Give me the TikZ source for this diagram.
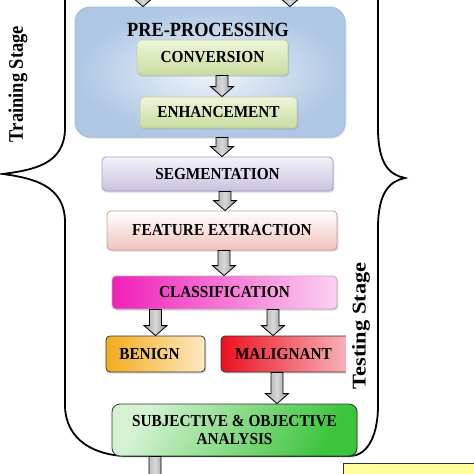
\documentclass[tikz,border=0pt]{standalone}
\usepackage{fontspec}
\setmainfont{Liberation Serif}
\usepackage{graphicx}
\usetikzlibrary{calc,shadows}
\definecolor{preIn}{HTML}{F0F5FB}
\definecolor{preOut}{HTML}{AEC7E4}
\definecolor{preBd}{HTML}{A3B9D3}
\definecolor{grTop}{HTML}{EEF5DA}
\definecolor{grBot}{HTML}{C9DCA0}
\definecolor{grBd}{HTML}{BFCFA3}
\definecolor{segTop}{HTML}{F4F2FA}
\definecolor{segBot}{HTML}{C9C2E0}
\definecolor{segBd}{HTML}{A69CC4}
\definecolor{featBot}{HTML}{EFC3BC}
\definecolor{featBd}{HTML}{C99A93}
\definecolor{clsL}{HTML}{F020B8}
\definecolor{clsR}{HTML}{FBD0F2}
\definecolor{clsBd}{HTML}{C9A0C4}
\definecolor{benL}{HTML}{F2AC1C}
\definecolor{benR}{HTML}{FDE9C4}
\definecolor{malL}{HTML}{EC1020}
\definecolor{malR}{HTML}{F9C3C8}
\definecolor{subL}{HTML}{D4F2D2}
\definecolor{subR}{HTML}{3CC43C}
\definecolor{noteY}{HTML}{FFFF9E}
\newcommand\tx[1]{\scalebox{1}[1.1]{#1}}
\newcommand\barrow[2]{\path[blockarrow] let \p1=#1, \p2=#2 in
  (\x1-6pt,\y1) -- (\x1+6pt,\y1) -- (\x1+6pt,\y2+10pt) -- (\x1+11.5pt,\y2+10pt)
  -- (\x1,\y2) -- (\x1-11.5pt,\y2+10pt) -- (\x1-6pt,\y2+10pt) -- cycle;}
\begin{document}
\begin{tikzpicture}[x=1pt,y=-1pt,
  box/.style={rectangle, rounded corners=4pt, inner sep=0pt, line width=0.8pt,
    font=\bfseries\fontsize{15.3}{18}\selectfont, align=center,
    drop shadow={shadow xshift=1.3pt,shadow yshift=-1.6pt,opacity=0.3}},
  blockarrow/.style={draw=black, line width=0.8pt, left color=gray!70, right color=gray!90, middle color=gray!30},
  outline/.style={draw=black, line width=1.8pt},
  stagelabel/.style={font=\bfseries, rotate=90, inner sep=0pt}]
\useasboundingbox (0,0) rectangle (474,474);

% stage outline
\draw[outline] (65,-10) -- (65,128) .. controls (65,165) and (32,170) .. (3,174)
  .. controls (32,178) and (65,185) .. (65,222) -- (65,405)
  .. controls (65,440) and (95,456) .. (128,456) -- (350,456)
  .. controls (365,456) and (378,440) .. (378,405) -- (378,228)
  .. controls (378,192) and (390,181) .. (405,178)
  .. controls (390,175) and (378,165) .. (378,128) -- (378,-10);

% boxes
\node[box, rounded corners=15pt, draw=preBd, inner color=preIn, outer color=preOut,
  minimum width=270pt, minimum height=130pt] (pre) at (210,72) {};
\node[font=\bfseries\fontsize{18.3}{20}\selectfont, inner sep=0pt] (pretitle) at (208,30) {\tx{PRE-PROCESSING}};
\node[box, draw=grBd, top color=grTop, bottom color=grBot,
  minimum width=151pt, minimum height=35pt] (conv) at (212.5,57.5) {\tx{CONVERSION}};
\node[box, draw=grBd, top color=grTop, bottom color=grBot,
  minimum width=157pt, minimum height=31pt] (enh) at (218.5,112.5) {\tx{ENHANCEMENT}};
\node[box, draw=segBd, top color=segTop, bottom color=segBot,
  minimum width=231pt, minimum height=34pt] (seg) at (217.5,174) {\tx{SEGMENTATION}};
\node[box, draw=featBd, top color=white, bottom color=featBot,
  minimum width=230pt, minimum height=39pt] (feat) at (222,230.5) {\tx{FEATURE EXTRACTION}};
\node[box, draw=clsBd, left color=clsL, right color=clsR,
  minimum width=225pt, minimum height=33pt] (cls) at (224.5,292.5) {\tx{CLASSIFICATION}};
\node[box, draw=black!80, left color=benL, right color=benR,
  minimum width=99pt, minimum height=36pt] (ben) at (155.5,354) {\tx{BENIGN\kern12pt}};
\node[box, draw=black!80, left color=malL, right color=malR,
  minimum width=139pt, minimum height=36pt] (mal) at (290.5,354) {\tx{MALIGNANT\kern14pt}};
\node[box, rounded corners=8pt, draw=black!80, left color=subL, right color=subR, shading angle=60,
  minimum width=245pt, minimum height=52pt] (subj) at (234.5,430)
  {\tx{SUBJECTIVE \& OBJECTIVE}\\\tx{ANALYSIS}};
\node[draw=black!80, line width=0.8pt, fill=noteY, minimum width=140pt, minimum height=30pt] (note) at (413,478) {};

% stage labels
\node[stagelabel, font=\bfseries\fontsize{18.5}{20}\selectfont] (train) at (18,84) {\scalebox{1}[1.12]{Training Stage}};
\node[stagelabel, font=\bfseries\fontsize{19.5}{20}\selectfont, fill=white, minimum height=30pt] (test) at (361,326) {\scalebox{1.15}[1]{Testing Stage}};

% arrows
\coordinate (in1) at (143,-20);
\coordinate (in2) at (290,-20);
\coordinate (outc) at (155,500);
\barrow{(in1)}{([xshift=-67pt]pre.north)}
\barrow{(in2)}{([xshift=80pt]pre.north)}
\barrow{([xshift=9.5pt]conv.south)}{(enh.north)}
\barrow{([xshift=12pt]pre.south)}{(seg.north)}
\barrow{([xshift=7.5pt]seg.south)}{(feat.north)}
\barrow{([xshift=2pt]feat.south)}{(cls.north)}
\barrow{(ben.north |- cls.south)}{(ben.north)}
\barrow{([xshift=48.5pt]cls.south)}{(mal.north)}
\barrow{([xshift=-13.5pt]mal.south)}{(subj.north)}
\barrow{([xshift=-79.5pt]subj.south)}{(outc)}
\end{tikzpicture}
\end{document}
